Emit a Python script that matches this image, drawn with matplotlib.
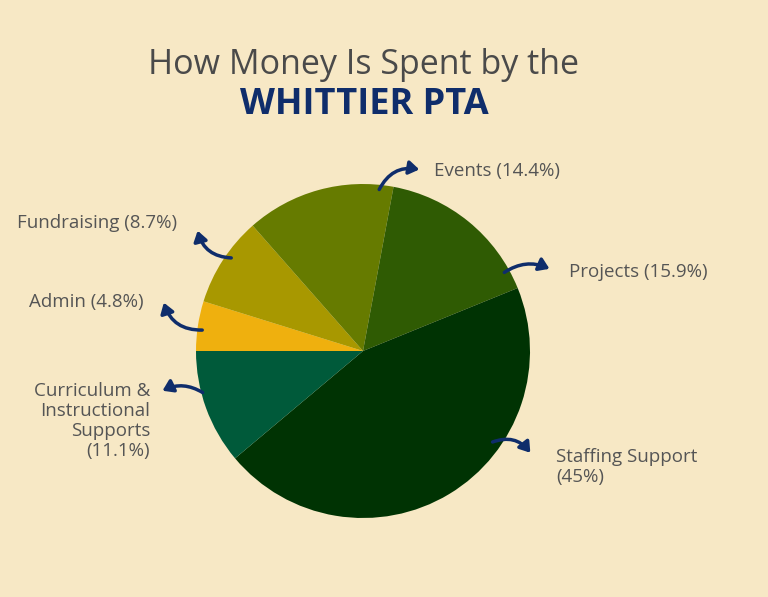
import matplotlib
matplotlib.use("Agg")
import matplotlib.pyplot as plt

labels = ["Admin (4.8%)", "Fundraising (8.7%)", "Events (14.4%)", "Projects (15.9%)",
          "Staffing Support\n(45%)", "Curriculum &\nInstructional\nSupports\n(11.1%)"]
values = [4.8, 8.7, 14.4, 15.9, 45, 11.1]
colors = ["#EFB00E", "#A89800", "#667B00", "#2F5B03", "#003303", "#005A3A"]

W, H = 768, 597
bg = "#F7E8C5"
navy = "#0F2D6B"
grey = "#555555"

fig = plt.figure(figsize=(W / 100, H / 100), dpi=100, facecolor=bg)
cx, cy, r = 363, 351, 167
ax = fig.add_axes([(cx - r) / W, (H - cy - r) / H, 2 * r / W, 2 * r / H])
ax.pie(values, colors=colors, startangle=180, counterclock=False, radius=1,
       wedgeprops=dict(linewidth=0))
ax.set_xlim(-1, 1)
ax.set_ylim(-1, 1)
ax.axis("off")

def P(x, y):
    return (x / W, 1 - y / H)

fig.text(*P(364, 65), "How Money Is Spent by the", ha="center", va="center",
         fontsize=24.5, color="#4a4a4a", family="Open Sans")
fig.text(*P(364, 105), "WHITTIER PTA", ha="center", va="center",
         fontsize=26, color=navy, fontweight="bold", family="Open Sans")

# label positions (px) and alignment
lab_pos = [(29, 302, "left"), (17, 223, "left"), (434, 171, "left"),
           (569, 272, "left"), (556, 467, "left"), (150, 421, "right")]
for lab, (x, y, ha) in zip(labels, lab_pos):
    fig.text(*P(x, y), lab, ha=ha, va="center", fontsize=13.5, color=grey,
             family="Open Sans", linespacing=1.15)

arrows = [((205, 330), (163, 300), -0.4), ((234, 258), (197, 228), -0.4),
          ((378, 192), (422, 170), -0.4), ((502, 274), (552, 270), -0.3),
          ((490, 443), (532, 455), -0.4), ((205, 394), (160, 392), 0.3)]
for (s, e, rad) in arrows:
    fig.add_artist(matplotlib.patches.FancyArrowPatch(
        P(*s), P(*e), transform=fig.transFigure, color=navy, lw=2.5,
        arrowstyle="-|>,head_length=6,head_width=4",
        connectionstyle=f"arc3,rad={rad}"))

fig.savefig("out.png", dpi=100, facecolor=bg)
